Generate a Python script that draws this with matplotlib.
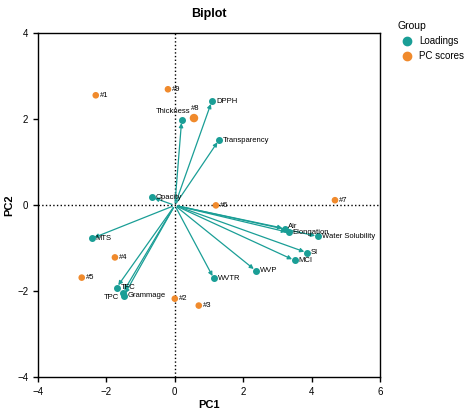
import matplotlib.pyplot as plt
from matplotlib.lines import Line2D

# loadings
load_names = ['DPPH', 'Thickness', 'Transparency', 'Opacity', 'MTS', 'Air', 'Elongation',
              'Water Solubility', 'SI', 'MCI', 'WVP', 'WVTR', 'TFC', 'TPC', 'Grammage']
load_x = [1.08, 0.20, 1.29, -0.67, -2.43, 3.22, 3.33, 4.18, 3.86, 3.50, 2.37, 1.14, -1.70, -1.52, -1.49]
load_y = [2.42, 1.98, 1.52, 0.19, -0.77, -0.54, -0.63, -0.72, -1.10, -1.28, -1.52, -1.70, -1.91, -2.03, -2.10]

# pc scores
score_names = ['#1', '#9', '#8', '#6', '#7', '#4', '#5', '#2', '#3']
score_x = [-2.31, -0.20, 0.56, 1.20, 4.68, -1.75, -2.72, 0.00, 0.70]
score_y = [2.56, 2.70, 2.03, 0.00, 0.12, -1.21, -1.68, -2.17, -2.33]

teal = '#1a9e96'
orange = '#f08a2c'

plt.rcParams['font.family'] = ['Liberation Sans', 'DejaVu Sans']
fig = plt.figure(figsize=(4.74, 4.17), dpi=100)
ax = fig.add_axes([0.08, 0.095, 0.722, 0.825])

for x, y in zip(load_x, load_y):
    ax.annotate('', xy=(x, y), xytext=(0, 0),
                arrowprops=dict(arrowstyle='-|>', color=teal, lw=0.9, mutation_scale=6))
ax.scatter(load_x, load_y, s=16, color=teal, zorder=3)
sizes = [26 if n == '#8' else 14 for n in score_names]
ax.scatter(score_x, score_y, s=sizes, color=orange, zorder=3)

offsets = {'Thickness': (-0.75, 0.2), 'TPC': (-0.55, -0.12), 'Opacity': (0.1, 0.0),
           'Elongation': (0.1, 0.0), 'Air': (0.1, 0.05)}
for n, x, y in zip(load_names, load_x, load_y):
    dx, dy = offsets.get(n, (0.12, 0.0))
    ax.text(x + dx, y + dy, n, fontsize=5.5, va='center')
for n, x, y in zip(score_names, score_x, score_y):
    dx, dy = (-0.1, 0.22) if n == '#8' else (0.12, 0.0)
    ax.text(x + dx, y + dy, n, fontsize=5.5, va='center')

ax.axhline(0, color='black', ls=':', lw=1)
ax.axvline(0, color='black', ls=':', lw=1)
ax.set_xlim(-4, 6)
ax.set_ylim(-4, 4)
ax.set_xticks(range(-4, 7, 2))
ax.set_yticks(range(-4, 5, 2))
ax.tick_params(labelsize=7, width=1)
for s in ax.spines.values():
    s.set_linewidth(1)
ax.set_xlabel('PC1', fontsize=8, fontweight='bold', labelpad=2)
ax.set_ylabel('PC2', fontsize=8, fontweight='bold', labelpad=2)
ax.set_title('Biplot', fontsize=9, fontweight='bold', pad=12)

handles = [Line2D([], [], marker='o', ls='', color=teal, markersize=6, label='Loadings'),
           Line2D([], [], marker='o', ls='', color=orange, markersize=6, label='PC scores')]
fig.legend(handles=handles, title='Group', loc='upper left', bbox_to_anchor=(0.82, 0.97),
           frameon=False, fontsize=7, title_fontsize=7.5, handletextpad=0.2, alignment='left')

fig.savefig('out.png', dpi=100)
